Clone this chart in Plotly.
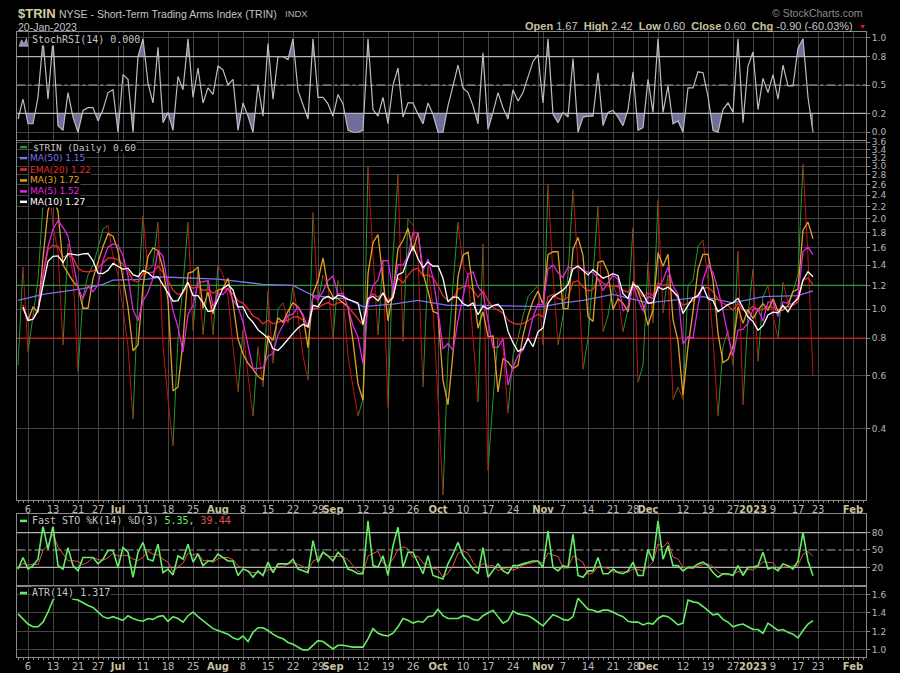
import plotly.graph_objects as go
import pandas as pd
import math

# ---------------- data ----------------
HOLIDAYS = ["2022-06-20", "2022-07-04", "2022-09-05", "2022-11-24",
            "2022-12-26", "2023-01-02", "2023-01-16"]

trin = [0.65, 1.38, 0.72, 0.95, 1.25, 2.25, 2.9, 1.9, 1.55, 0.76,
        1.65, 1.3, 0.62, 1.1, 1.3, 1.4, 1.6, 1.85, 1.9, 1.5,
        1.3, 1.0, 0.75, 0.43, 1.1, 2.05, 1.35, 1.4, 1.95, 0.75,
        0.5, 0.35, 0.8, 1.2, 1.95, 0.85, 1.35, 0.82, 1.25, 0.82,
        1.4, 1.3, 1.1, 0.75, 0.53, 0.85, 0.6, 0.44, 0.75, 0.55,
        1.15, 0.66, 1.0, 1.05, 0.9, 1.2, 0.95, 0.7, 0.58, 2.1,
        1.05, 1.3, 1.2, 0.8, 1.25, 1.1, 0.7, 0.55, 0.44, 0.5,
        3.0, 1.5, 0.82, 1.45, 0.47, 1.5, 2.8, 0.78, 2.0, 1.9,
        1.5, 0.55, 1.4, 1.0, 0.5, 0.24, 0.7, 1.2, 1.95, 1.4,
        1.3, 0.8, 0.49, 1.65, 0.29, 0.5, 0.8, 0.75, 0.45, 0.7,
        0.8, 0.95, 1.1, 1.15, 1.2, 0.76, 2.6, 1.3, 0.76, 0.95,
        1.3, 2.5, 1.4, 0.63, 0.8, 1.3, 2.2, 0.84, 0.95, 1.2,
        1.1, 0.84, 1.0, 1.87, 0.57, 0.65, 1.43, 0.9, 2.3, 0.97,
        1.3, 0.5, 0.55, 0.5, 1.2, 1.25, 1.62, 1.7, 1.25, 0.8,
        0.44, 0.75, 0.85, 0.65, 1.56, 0.48, 0.95, 1.36, 0.67, 1.1,
        1.2, 0.95, 0.8, 1.23, 1.05, 1.15, 1.3, 3.05, 1.5, 0.6]

stoch_rsi = [0.14, 0.35, 0.09, 0.09, 0.37, 0.98, 0.35, 0.98, 0.07, 0.02,
             0.42, 0.16, 0.0, 0.23, 0.26, 0.26, 0.12, 0.24, 0.42, 0.45,
             0.0, 0.61, 0.56, 0.0, 0.8, 0.99, 0.52, 0.31, 0.9, 0.1,
             0.21, 0.02, 0.59, 0.45, 0.99, 0.37, 0.68, 0.31, 0.47, 0.4,
             0.7, 0.66, 0.5, 0.56, 0.02, 0.31, 0.17, 0.0, 0.5, 0.17,
             0.94, 0.35, 0.8, 0.8, 0.77, 0.99, 0.44, 0.28, 0.14, 0.99,
             0.37, 0.37, 0.3, 0.17, 0.4, 0.3, 0.02, 0.0, 0.0, 0.02,
             0.99, 0.24, 0.17, 0.37, 0.09, 0.5, 0.68, 0.16, 0.31, 0.31,
             0.19, 0.09, 0.31, 0.19, 0.0, 0.0, 0.28, 0.49, 0.71, 0.47,
             0.42, 0.28, 0.09, 0.84, 0.03, 0.21, 0.42, 0.26, 0.14, 0.45,
             0.33, 0.42, 0.59, 0.75, 0.82, 0.31, 0.99, 0.19, 0.1, 0.21,
             0.16, 0.78, 0.0, 0.16, 0.17, 0.17, 0.63, 0.07, 0.21, 0.23,
             0.16, 0.07, 0.24, 0.64, 0.02, 0.05, 0.56, 0.21, 0.99, 0.21,
             0.49, 0.09, 0.12, 0.0, 0.47, 0.47, 0.64, 0.63, 0.38, 0.02,
             0.0, 0.24, 0.31, 0.21, 0.99, 0.1, 0.7, 0.85, 0.24, 0.57,
             0.42, 0.61, 0.35, 0.71, 0.49, 0.49, 0.89, 0.99, 0.37, 0.0]

fast_k = [17, 37, 17, 23, 34, 91, 51, 91, 23, 17,
          54, 23, 14, 37, 37, 37, 26, 34, 49, 49,
          20, 54, 46, 3, 46, 63, 34, 31, 60, 11,
          17, 7, 40, 34, 60, 29, 43, 23, 31, 31,
          43, 37, 31, 31, 6, 17, 14, 3, 14, 6,
          29, 11, 26, 26, 26, 34, 17, 14, 11, 66,
          29, 46, 40, 31, 46, 37, 17, 14, 9, 9,
          100, 23, 20, 40, 6, 57, 89, 20, 46, 46,
          26, 9, 40, 6, 3, 0, 26, 43, 63, 40,
          29, 17, 9, 54, 3, 14, 26, 14, 9, 23,
          23, 26, 29, 31, 31, 20, 83, 20, 14, 23,
          20, 77, 6, 3, 14, 14, 37, 9, 9, 17,
          11, 9, 14, 29, 6, 6, 51, 31, 100, 34,
          57, 23, 23, 14, 20, 20, 26, 29, 23, 11,
          3, 9, 9, 6, 23, 6, 20, 20, 23, 46,
          17, 20, 14, 26, 23, 17, 31, 80, 31, 5.35]

atr = [1.39, 1.34, 1.28, 1.25, 1.25, 1.30, 1.41, 1.54, 1.62, 1.64,
       1.61, 1.55, 1.54, 1.51, 1.48, 1.46, 1.41, 1.36, 1.34, 1.36,
       1.34, 1.32, 1.37, 1.34, 1.32, 1.31, 1.34, 1.33, 1.36, 1.37,
       1.31, 1.36, 1.34, 1.30, 1.37, 1.41, 1.36, 1.32, 1.27, 1.23,
       1.21, 1.19, 1.17, 1.13, 1.11, 1.15, 1.09, 1.19, 1.24, 1.24,
       1.21, 1.17, 1.14, 1.12, 1.08, 1.06, 1.03, 1.00, 1.00, 1.05,
       1.10, 1.09, 1.05, 1.01, 1.05, 1.05, 1.04, 1.03, 1.03, 1.03,
       1.12, 1.23, 1.18, 1.16, 1.15, 1.18, 1.25, 1.34, 1.32, 1.29,
       1.31, 1.30, 1.36, 1.37, 1.44, 1.37, 1.34, 1.34, 1.34, 1.37,
       1.36, 1.33, 1.32, 1.37, 1.40, 1.43, 1.36, 1.29, 1.32, 1.42,
       1.39, 1.38, 1.37, 1.34, 1.30, 1.26, 1.32, 1.38, 1.36, 1.33,
       1.32, 1.36, 1.56, 1.50, 1.44, 1.43, 1.41, 1.43, 1.43, 1.41,
       1.38, 1.36, 1.31, 1.30, 1.30, 1.27, 1.29, 1.28, 1.34, 1.37,
       1.36, 1.32, 1.27, 1.29, 1.54, 1.52, 1.51, 1.47, 1.43, 1.38,
       1.39, 1.33, 1.30, 1.25, 1.27, 1.28, 1.25, 1.22, 1.22, 1.18,
       1.29, 1.25, 1.21, 1.22, 1.19, 1.17, 1.13, 1.21, 1.28, 1.317]

ma50_dates = ["2022-06-02", "2022-06-09", "2022-06-22", "2022-06-28", "2022-06-30",
              "2022-07-12", "2022-07-15", "2022-07-25", "2022-08-01", "2022-08-12",
              "2022-08-22", "2022-08-26", "2022-09-07", "2022-09-12", "2022-09-20",
              "2022-09-27", "2022-10-05", "2022-10-14", "2022-11-01", "2022-11-07",
              "2022-11-11", "2022-11-21", "2022-12-01", "2022-12-12", "2022-12-16",
              "2022-12-27", "2023-01-05", "2023-01-17", "2023-01-20"]
ma50_vals = [1.07, 1.12, 1.17, 1.21, 1.25, 1.26, 1.28, 1.27, 1.26, 1.21,
             1.20, 1.11, 1.08, 1.02, 1.04, 1.07, 1.03, 1.03, 1.02, 1.05,
             1.07, 1.12, 1.05, 1.08, 1.10, 1.05, 1.10, 1.11, 1.15]

tick_dates = ["2022-06-06", "2022-06-13", "2022-06-21", "2022-06-27", "2022-07-01",
              "2022-07-05", "2022-07-11", "2022-07-18", "2022-07-25", "2022-08-01",
              "2022-08-08", "2022-08-15", "2022-08-22", "2022-08-29", "2022-09-01",
              "2022-09-06", "2022-09-12", "2022-09-19", "2022-09-26", "2022-10-03",
              "2022-10-10", "2022-10-17", "2022-10-24", "2022-10-31", "2022-11-01",
              "2022-11-07", "2022-11-14", "2022-11-21", "2022-11-28", "2022-12-01",
              "2022-12-05", "2022-12-12", "2022-12-19", "2022-12-27", "2023-01-03",
              "2023-01-09", "2023-01-17", "2023-01-23", "2023-01-30", "2023-02-01"]
tick_labels = ["6", "13", "21", "27", "Jul", "", "11", "18", "25", "Aug",
               "8", "15", "22", "29", "Sep", "", "12", "19", "26", "Oct",
               "10", "17", "24", "", "Nov", "7", "14", "21", "28", "Dec",
               "", "12", "19", "27", "2023", "9", "17", "23", "", "Feb"]
month_labels = {"Jul", "Aug", "Sep", "Oct", "Nov", "Dec", "2023", "Feb"}

main_ticks = [0.4, 0.6, 0.8, 1.0, 1.2, 1.4, 1.6, 1.8, 2.0, 2.2, 2.4, 2.6,
              2.8, 3.0, 3.2, 3.4, 3.6]

# ---------------- derived ----------------
all_days = pd.bdate_range("2022-06-02", "2023-02-10", freq="C", holidays=HOLIDAYS)
pos = {d.strftime("%Y-%m-%d"): k for k, d in enumerate(all_days)}
n = len(trin)
xs = list(range(n))

s = pd.Series(trin)
ma3 = s.rolling(3, min_periods=1).mean()
ma5 = s.rolling(5, min_periods=1).mean()
ma10 = s.rolling(10, min_periods=1).mean()
ema20 = s.ewm(span=20, adjust=True).mean()
fast_d = pd.Series(fast_k).rolling(3, min_periods=1).mean()
ma50_x = [pos[d] for d in ma50_dates]

TAN = "#c9c29f"
GRAY_TXT = "#b8b8b8"
GRID = "#444444"
FRAME = "#8a8a8a"

tickvals = [pos[d] for d in tick_dates]
ticktext = [("<b><span style='color:%s'>%s</span></b>" % (TAN, t)) if t in month_labels else t
            for t in tick_labels]

XR = [-0.3, 169.6]
W, H = 900, 673


def px(x):
    return x / W


def py(y):
    return 1 - y / H


XD = [px(16.5), px(866)]
D_RSI = [py(136.7), py(28.3)]
D_MAIN = [py(499), py(138)]
D_STO = [py(585), py(513)]
D_ATR = [py(656.7), py(585)]

fig = go.Figure()


def hline(level, xa, ya, color, width=1.0, dash="solid"):
    fig.add_trace(go.Scatter(x=XR, y=[level, level], xaxis=xa, yaxis=ya, mode="lines",
                             line=dict(color=color, width=width, dash=dash),
                             hoverinfo="skip", showlegend=False))


# ---- StochRSI panel ----
def band(xv, yv, level, below):
    bx, by = [], []
    for k in range(len(xv)):
        if k > 0:
            y0, y1 = yv[k - 1], yv[k]
            if (y0 - level) * (y1 - level) < 0:
                t = (level - y0) / (y1 - y0)
                bx.append(xv[k - 1] + t * (xv[k] - xv[k - 1]))
                by.append(level)
        bx.append(xv[k])
        by.append(min(yv[k], level) if below else max(yv[k], level))
    return bx, by


FILL = "#6e6e98"
for level, below in [(0.2, True), (0.8, False)]:
    bx, by = band(xs, stoch_rsi, level, below)
    fig.add_trace(go.Scatter(x=bx, y=[level] * len(bx), xaxis="x", yaxis="y", mode="lines",
                             line=dict(width=0, color=FILL), hoverinfo="skip", showlegend=False))
    fig.add_trace(go.Scatter(x=bx, y=by, xaxis="x", yaxis="y", mode="lines", fill="tonexty",
                             fillcolor=FILL, line=dict(width=0, color=FILL),
                             hoverinfo="skip", showlegend=False))
hline(0.8, "x", "y", "#b4b4b4", 1.2)
hline(0.2, "x", "y", "#b4b4b4", 1.2)
hline(0.5, "x", "y", "#a8a8a8", 1.0, "dashdot")
fig.add_trace(go.Scatter(x=xs, y=stoch_rsi, xaxis="x", yaxis="y", mode="lines",
                         line=dict(color="#bdbdbd", width=1.2), showlegend=False))

# ---- main panel ----
hline(1.2, "x2", "y2", "#2f9a2f", 1.2)
hline(0.8, "x2", "y2", "#d01818", 1.2)

gx, gy, rx, ry = [], [], [], []
for k in range(1, n):
    if trin[k] >= trin[k - 1]:
        gx += [k - 1, k, None]
        gy += [trin[k - 1], trin[k], None]
    else:
        rx += [k - 1, k, None]
        ry += [trin[k - 1], trin[k], None]
fig.add_trace(go.Scatter(x=gx, y=gy, xaxis="x2", yaxis="y2", mode="lines",
                         line=dict(color="#2a962a", width=1.0), showlegend=False))
fig.add_trace(go.Scatter(x=rx, y=ry, xaxis="x2", yaxis="y2", mode="lines",
                         line=dict(color="#c41212", width=1.0), showlegend=False))

for yv, xv, col in [(ma50_vals, ma50_x, "#7474ec"), (list(ema20)[1:], xs[1:], "#e82a2a"),
                    (list(ma3)[1:], xs[1:], "#e0a028"), (list(ma5)[1:], xs[1:], "#e026e0"),
                    (list(ma10)[1:], xs[1:], "#ffffff")]:
    fig.add_trace(go.Scatter(x=xv, y=yv, xaxis="x2", yaxis="y2", mode="lines",
                             line=dict(color=col, width=1.3), showlegend=False))

# ---- Fast STO panel ----
hline(80, "x3", "y3", "#b4b4b4", 1.2)
hline(20, "x3", "y3", "#b4b4b4", 1.2)
hline(50, "x3", "y3", "#a8a8a8", 1.0, "dashdot")
fig.add_trace(go.Scatter(x=xs, y=list(fast_d), xaxis="x3", yaxis="y3", mode="lines",
                         line=dict(color="#e05050", width=1.0), showlegend=False))
fig.add_trace(go.Scatter(x=xs, y=fast_k, xaxis="x3", yaxis="y3", mode="lines",
                         line=dict(color="#66ee66", width=1.6), showlegend=False))

# ---- ATR panel ----
fig.add_trace(go.Scatter(x=xs, y=atr, xaxis="x4", yaxis="y4", mode="lines",
                         line=dict(color="#66ee66", width=1.6), showlegend=False))

# ---------------- axes ----------------
AXF = dict(family="DejaVu Sans", size=10, color=GRAY_TXT)


def xaxis(anchor, labels):
    d = dict(domain=XD, anchor=anchor, range=XR, tickmode="array", tickvals=tickvals,
             ticktext=ticktext, showticklabels=labels, tickangle=0, showgrid=True,
             gridcolor=GRID, gridwidth=1, zeroline=False, showline=True, linecolor=FRAME,
             linewidth=1, mirror=True, ticks="", tickfont=AXF, fixedrange=True)
    if labels:
        d["minor"] = dict(tickmode="linear", tick0=0, dtick=1, ticks="outside", ticklen=2,
                          tickcolor=FRAME, showgrid=False)
    return d


def yaxis(anchor, domain, rng, tv, tt, grid=True, typ="linear"):
    return dict(domain=domain, anchor=anchor, range=rng, type=typ, side="right",
                tickmode="array", tickvals=tv, ticktext=tt, showgrid=grid, gridcolor=GRID,
                zeroline=False, showline=True, linecolor=FRAME, mirror=True,
                ticks="outside", ticklen=3, tickcolor=FRAME,
                tickfont=dict(family="DejaVu Sans", size=9, color=GRAY_TXT), fixedrange=True)


layout_axes = dict(
    xaxis=xaxis("y", False),
    xaxis2=xaxis("y2", True),
    xaxis3=xaxis("y3", False),
    xaxis4=xaxis("y4", True),
    yaxis=yaxis("x", D_RSI, [-0.081, 1.06], [0, 0.2, 0.5, 0.8, 1.0],
                ["0.0", "0.2", "0.5", "0.8", "1.0"]),
    yaxis2=yaxis("x2", D_MAIN, [math.log10(0.231), math.log10(3.63)], main_ticks,
                 ["%.1f" % v for v in main_ticks], typ="log"),
    yaxis3=yaxis("x3", D_STO, [-11.3, 112], [20, 50, 80], ["20", "50", "80"], grid=False),
    yaxis4=yaxis("x4", D_ATR, [0.925, 1.697], [1.0, 1.2, 1.4, 1.6],
                 ["1.0", "1.2", "1.4", "1.6"]),
)
for k in ("xaxis2", "xaxis3", "xaxis4"):
    layout_axes[k]["matches"] = "x"

# ---------------- annotations ----------------
ann = []
shapes = []


def text(x, y, t, size, color, family="Liberation Sans", anchor="left", bg=None):
    d = dict(x=px(x), y=py(y), xref="paper", yref="paper", text=t, showarrow=False,
             xanchor=anchor, yanchor="middle",
             font=dict(family=family, size=size, color=color))
    if bg:
        d.update(bgcolor=bg, borderpad=0)
    ann.append(d)


def dash(x0, x1, y, color):
    shapes.append(dict(type="line", xref="paper", yref="paper", x0=px(x0), x1=px(x1),
                       y0=py(y), y1=py(y), line=dict(color=color, width=2.5)))


# header
text(16, 10, "<b>$TRIN</b>", 13, "#d4cda4")
text(57, 10, "NYSE - Short-Term Trading Arms Index (TRIN)", 10.5, "#c4c4c4")
text(283, 10, "INDX", 9.5, "#b0b0b0")
text(16, 23, "20-Jan-2023", 10.5, "#c4c4c4")
text(865, 9, "© StockCharts.com", 10.5, "#8c8c8c", anchor="right")
hdr = ("<b><span style='color:%s'>Open</span></b> 1.67  "
       "<b><span style='color:%s'>High</span></b> 2.42  "
       "<b><span style='color:%s'>Low</span></b> 0.60  "
       "<b><span style='color:%s'>Close</span></b> 0.60  "
       "<b><span style='color:%s'>Chg</span></b> -0.90 (-60.03%%)") % ((TAN,) * 5)
text(855, 22, hdr, 11, "#c4c4c4", anchor="right")
text(857, 22.5, "▼", 7, "#e02020")

MONO = "DejaVu Sans Mono"
shapes.append(dict(type="path", xref="paper", yref="paper",
                   path="M %f,%f L %f,%f L %f,%f L %f,%f L %f,%f Z" % (
                       px(19), py(42.5), px(21.5), py(36), px(24), py(40),
                       px(26.5), py(34.5), px(28), py(42.5)),
                   fillcolor="#8a8ab4", line=dict(color="#c8c8c8", width=0.6)))
text(31, 35.5, "StochRSI(14) 0.000", 10, "#c4c4c4", family=MONO, bg="black")

dash(20, 27, 144, "#2a962a")
text(31.5, 144, "$TRIN (Daily) 0.60", 9.5, "#c4c4c4", family=MONO, bg="black")
for yy, col, lab in [(155, "#7474ec", "MA(50) 1.15"), (166.5, "#e82a2a", "EMA(20) 1.22"),
                     (177.5, "#e0a028", "MA(3) 1.72"), (188.5, "#e026e0", "MA(5) 1.52"),
                     (199, "#ffffff", "MA(10) 1.27")]:
    dash(20, 27, yy, col)
    text(29, yy, lab, 9, col, family="DejaVu Sans", bg="black")

dash(20, 27, 520, "#66ee66")
text(31, 520, "Fast STO %K(14) %D(3) <span style='color:#66ee66'>5.35,</span> "
              "<span style='color:#e05050'>39.44</span>", 10, "#c4c4c4", family=MONO, bg="black")
dash(20, 27, 592.5, "#66ee66")
text(31, 592.5, "ATR(14) 1.317", 10, "#c4c4c4", family=MONO, bg="black")

fig.update_layout(
    width=W, height=H, margin=dict(l=0, r=0, t=0, b=0),
    paper_bgcolor="black", plot_bgcolor="black", showlegend=False,
    annotations=ann, shapes=shapes, hovermode=False,
    **layout_axes,
)

fig.write_html("out.html", config={"displayModeBar": False},
               post_script="document.body.style.margin='0';document.body.style.overflow='hidden';")
